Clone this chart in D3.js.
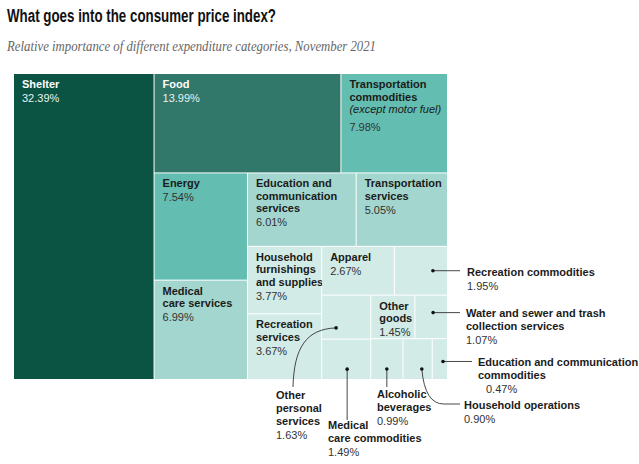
<!DOCTYPE html>
<html>
<head>
<meta charset="utf-8">
<script src="https://cdn.jsdelivr.net/npm/d3@7"></script>
<style>
  body { margin: 0; background: #fff; }
  svg { display: block; }
</style>
</head>
<body>
<div id="chart"></div>
<script>
// CPI relative importance, Nov 2021
var categories = [
  "Shelter", "Food", "Transportation commodities", "Energy", "Medical care services",
  "Education and communication services", "Transportation services",
  "Household furnishings and supplies", "Recreation services", "Apparel",
  "Recreation commodities", "Other personal services", "Medical care commodities",
  "Other goods", "Water and sewer and trash collection services", "Alcoholic beverages",
  "Household operations", "Education and communication commodities"];
var shares = [32.39, 13.99, 7.98, 7.54, 6.99, 6.01, 5.05, 3.77, 3.67, 2.67,
  1.95, 1.63, 1.49, 1.45, 1.07, 0.99, 0.90, 0.47];
var pctLabels = ["32.39%", "13.99%", "7.98%", "7.54%", "6.99%", "6.01%", "5.05%", "3.77%",
  "3.67%", "2.67%", "1.95%", "1.63%", "1.49%", "1.45%", "1.07%", "0.99%", "0.90%", "0.47%"];

// how names break inside tiles / in callouts
var nameLines = {
  "Shelter": ["Shelter"],
  "Food": ["Food"],
  "Transportation commodities": ["Transportation", "commodities"],
  "Energy": ["Energy"],
  "Medical care services": ["Medical", "care services"],
  "Education and communication services": ["Education and", "communication", "services"],
  "Transportation services": ["Transportation", "services"],
  "Household furnishings and supplies": ["Household", "furnishings", "and supplies"],
  "Recreation services": ["Recreation", "services"],
  "Apparel": ["Apparel"],
  "Other goods": ["Other", "goods"],
  "Recreation commodities": ["Recreation commodities"],
  "Other personal services": ["Other", "personal", "services"],
  "Medical care commodities": ["Medical", "care commodities"],
  "Water and sewer and trash collection services": ["Water and sewer and trash", "collection services"],
  "Alcoholic beverages": ["Alcoholic", "beverages"],
  "Household operations": ["Household operations"],
  "Education and communication commodities": ["Education and communication", "commodities"]
};

// callouts for the small tiles: dot position as fraction of tile, label anchor, leader style
var callouts = [
  {name: "Recreation commodities", fx: 0.73, fy: 0.5, tx: 467, ty: 276, kind: "h", lx: 460},
  {name: "Water and sewer and trash collection services", fx: 0.56, fy: 0.4, tx: 466, ty: 317, kind: "h", lx: 460},
  {name: "Education and communication commodities", fx: 0.72, fy: 0.56, tx: 478, ty: 366, kind: "h", lx: 472, pctDx: 8},
  {name: "Household operations", fx: 0.65, fy: 0.75, tx: 464, ty: 409, kind: "curveRight", lx: 460},
  {name: "Alcoholic beverages", fx: 0.5, fy: 0.75, tx: 377, ty: 398, kind: "v", ly: 387},
  {name: "Medical care commodities", fx: 0.52, fy: 0.75, tx: 328, ty: 429, kind: "v", ly: 420},
  {name: "Other personal services", fx: 0.29, fy: 0.75, tx: 276, ty: 399, kind: "curveLeft"}
];

// how many tiles go in each strip of the layout
var stripSizes = [1, 2, 2, 2, 2, 2, 2, 2, 1, 1, 1];

var W = 639, H = 464;
var box = {x: 14, y: 74, w: 433, h: 305};

var colour = d3.scaleThreshold()
  .domain([4, 7, 10, 20])
  .range(["#d3ebe6", "#a3d6ce", "#63bdb0", "#31776a", "#0b5444"]);

var svg = d3.select("#chart").append("svg")
  .attr("width", W).attr("height", H);

svg.append("text")
  .attr("x", 7).attr("y", 22)
  .attr("font-family", "'Liberation Sans Narrow', 'Liberation Sans', sans-serif")
  .attr("font-weight", "bold").attr("font-size", 17.5).attr("fill", "#111")
  .attr("textLength", 269).attr("lengthAdjust", "spacingAndGlyphs")
  .text("What goes into the consumer price index?");

svg.append("text")
  .attr("x", 7).attr("y", 51)
  .attr("font-family", "'Liberation Serif', 'DejaVu Serif', serif")
  .attr("font-style", "italic").attr("font-size", 15).attr("fill", "#666")
  .attr("textLength", 369).attr("lengthAdjust", "spacingAndGlyphs")
  .text("Relative importance of different expenditure categories, November 2021");

var rows = categories.map(function(c, i) {
  return {name: c, value: shares[i], pct: pctLabels[i]};
});

// alternating strips: column on the left when box is wide, row on top when tall
function stripTile(parent, x0, y0, x1, y1) {
  var nodes = parent.children, i = 0, total = parent.value;
  stripSizes.forEach(function(k) {
    var row = nodes.slice(i, i + k);
    i += k;
    if (!row.length) return;
    var v = d3.sum(row, function(n) { return n.value; });
    var dx = x1 - x0, dy = y1 - y0;
    if (dx >= dy) {
      var w = dx * v / total, yy = y0;
      row.forEach(function(n) {
        n.x0 = x0; n.x1 = x0 + w;
        n.y0 = yy; yy += dy * n.value / v; n.y1 = yy;
      });
      x0 += w;
    } else {
      var h = dy * v / total, xx = x0;
      row.forEach(function(n) {
        n.y0 = y0; n.y1 = y0 + h;
        n.x0 = xx; xx += dx * n.value / v; n.x1 = xx;
      });
      y0 += h;
    }
    total -= v;
  });
}

var root = d3.hierarchy({children: rows})
  .sum(function(d) { return d.value || 0; })
  .sort(function(a, b) { return b.value - a.value; });

d3.treemap()
  .size([box.w, box.h])
  .paddingInner(1)
  .tile(stripTile)(root);

var g = svg.append("g").attr("transform", "translate(" + box.x + "," + box.y + ")");

var leaves = root.leaves();
var calloutNames = callouts.map(function(c) { return c.name; });

var cell = g.selectAll("g.cell")
  .data(leaves)
  .enter().append("g")
  .attr("class", "cell")
  .attr("transform", function(d) { return "translate(" + d.x0 + "," + d.y0 + ")"; });

cell.append("rect")
  .attr("width", function(d) { return d.x1 - d.x0; })
  .attr("height", function(d) { return d.y1 - d.y0; })
  .attr("fill", function(d) { return colour(d.data.value); });

var fontStack = "'Liberation Sans', Arial, sans-serif";

cell.filter(function(d) { return calloutNames.indexOf(d.data.name) < 0; })
  .each(function(d) {
    var dark = d.data.value > 10;
    var t = d3.select(this).append("text")
      .attr("font-family", fontStack).attr("font-size", 11)
      .attr("fill", dark ? "#fff" : "#1b1b1b");
    var lines = nameLines[d.data.name];
    var y = 14;
    lines.forEach(function(l, i) {
      t.append("tspan").attr("x", 8).attr("y", y + i * 12.5)
        .attr("font-weight", "bold").text(l);
    });
    y += (lines.length - 1) * 12.5;
    if (d.data.name === "Transportation commodities") {
      y += 12.5;
      t.append("tspan").attr("x", 8).attr("y", y)
        .attr("font-style", "italic").text("(except motor fuel)");
      y += 4;
    }
    t.append("tspan").attr("x", 8).attr("y", y + 14)
      .attr("fill", dark ? "#e8f2ef" : "#333").text(d.data.pct);
  });

// callouts
var ann = svg.append("g");
callouts.forEach(function(c) {
  var d = leaves.filter(function(l) { return l.data.name === c.name; })[0];
  var px = box.x + d.x0 + c.fx * (d.x1 - d.x0);
  var py = box.y + d.y0 + c.fy * (d.y1 - d.y0);
  var path;
  if (c.kind === "h") {
    path = "M" + px + "," + py + "H" + c.lx;
  } else if (c.kind === "v") {
    path = "M" + px + "," + py + "V" + c.ly;
  } else if (c.kind === "curveRight") {
    var yy = c.ty - 5;
    path = "M" + px + "," + py + "Q" + (px + 3) + "," + yy + " " + (px + 22) + "," + yy + "H" + c.lx;
  } else {
    path = "M" + px + "," + py + "C" + (px - 30) + "," + (py + 1) + " " + (c.tx + 18) + "," + (py + 20) + " " + (c.tx + 17) + "," + (c.ty - 12);
  }
  ann.append("path").attr("d", path)
    .attr("fill", "none").attr("stroke", "#333").attr("stroke-width", 0.9);
  ann.append("circle").attr("cx", px).attr("cy", py).attr("r", 1.8).attr("fill", "#111");

  var t = ann.append("text")
    .attr("font-family", fontStack).attr("font-size", 11).attr("fill", "#1b1b1b");
  var lines = nameLines[c.name];
  lines.forEach(function(l, i) {
    t.append("tspan").attr("x", c.tx).attr("y", c.ty + i * 13)
      .attr("font-weight", "bold").text(l);
  });
  t.append("tspan").attr("x", c.tx + (c.pctDx || 0)).attr("y", c.ty + lines.length * 13 + 1)
    .attr("fill", "#333").text(d.data.pct);
});
</script>
</body>
</html>
